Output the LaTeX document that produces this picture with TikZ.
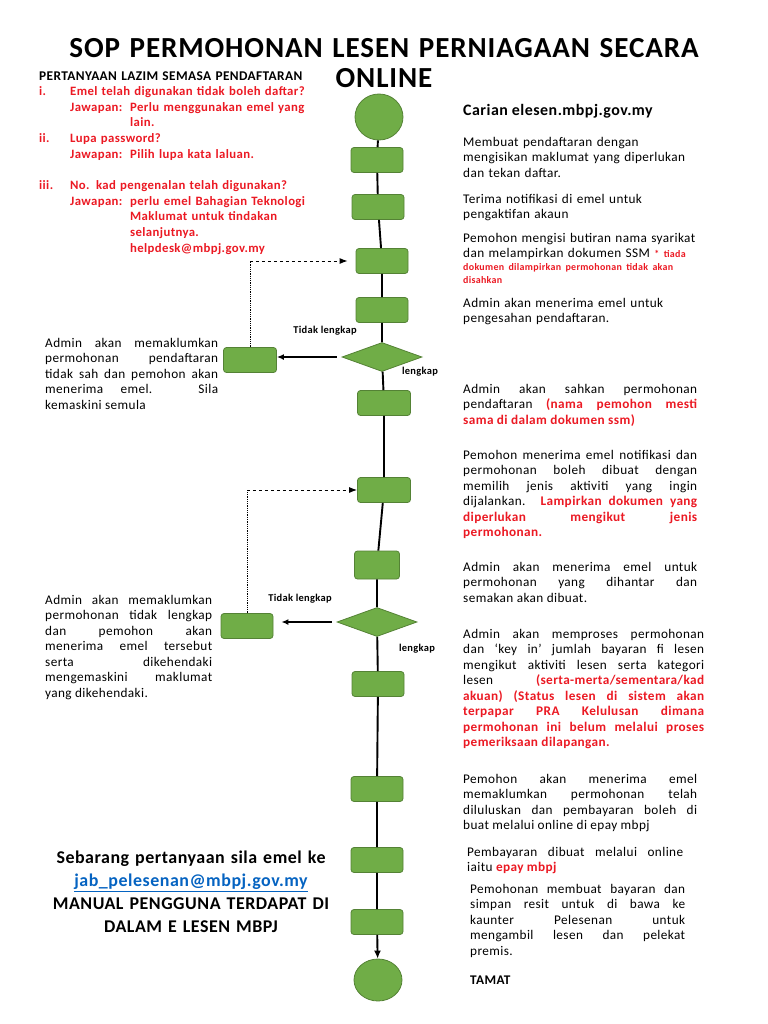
\documentclass[tikz,border=0pt]{standalone}
\usepackage{fontspec}
\setmainfont{Carlito}[LetterSpace=3]
\usepackage{tikz}
\usetikzlibrary{positioning,calc,shapes.geometric,arrows.meta}
\definecolor{SopGreen}{RGB}{112,173,71}
\definecolor{SopEdge}{RGB}{84,130,53}
\definecolor{SopRed}{RGB}{235,25,35}
\definecolor{LinkBlue}{RGB}{5,99,193}
\hyphenpenalty=10000
\exhyphenpenalty=10000
\newcommand{\redtext}[1]{{\color{SopRed}\bfseries #1}}
\newcommand{\smallred}[1]{{\color{SopRed}\bfseries\fontsize{10}{12}\selectfont #1}}
\tikzset{
	stepbox/.style={rectangle,rounded corners=3bp,draw=SopEdge,fill=SopGreen,line width=0.8bp,
		minimum width=52bp,minimum height=25bp,inner sep=0pt},
	decide/.style={diamond,draw=SopEdge,fill=SopGreen,line width=0.8bp,
		minimum width=80bp,minimum height=29bp,inner sep=0pt},
	terminal/.style={ellipse,draw=SopEdge,fill=SopGreen,line width=0.8bp,
		minimum width=48bp,minimum height=46bp,inner sep=0pt},
	flow/.style={draw=black,line width=1.9bp},
	side/.style={draw=black,line width=1.5bp,-{Latex[length=7bp,width=6bp]}},
	back/.style={draw=black,line width=1bp,dashed,-{Latex[length=8bp,width=6bp]}},
	note/.style={anchor=base west,inner sep=0pt,align=justify,font=\fontsize{13.3}{15.6}\selectfont},
	plain/.style={anchor=base west,inner sep=0pt,align=left,font=\fontsize{13.3}{15.6}\selectfont},
	tag/.style={inner sep=0pt,font=\fontsize{10.5}{11}\selectfont\bfseries},
}

\begin{document}
\begin{tikzpicture}[x=1bp,y=-1bp]
	\useasboundingbox (0,0) rectangle (768,1024);
	\node[anchor=base,inner sep=0pt,text width=740bp,align=center,
		font=\fontsize{29.2}{31}\selectfont\bfseries] (title) at (384,57)
		{SOP PERMOHONAN LESEN PERNIAGAAN SECARA\\ONLINE};

	% soalan lazim
	\node[plain,text width=320bp,font=\fontsize{12.8}{15.7}\selectfont\bfseries] (faq) at (39,80)
		{{\fontsize{13.4}{15.7}\selectfont PERTANYAAN LAZIM SEMASA PENDAFTARAN}\\
		\color{SopRed}\makebox[31bp][l]{i.}Emel telah digunakan tidak boleh daftar?\\
		\hspace*{31bp}\makebox[60bp][l]{Jawapan:}Perlu menggunakan emel yang\\
		\hspace*{91bp}lain.\\
		\makebox[31bp][l]{ii.}Lupa password?\\
		\hspace*{31bp}\makebox[60bp][l]{Jawapan:}Pilih lupa kata laluan.\\[15.7bp]
		\makebox[31bp][l]{iii.}No. kad pengenalan telah digunakan?\\
		\hspace*{31bp}\makebox[60bp][l]{Jawapan:}perlu emel Bahagian Teknologi\\
		\hspace*{91bp}Maklumat untuk tindakan\\
		\hspace*{91bp}selanjutnya.\\
		\hspace*{91bp}helpdesk@mbpj.gov.my};

	% carta alir
	\node[terminal] (start) at (379,117) {};
	\node[stepbox] (b1) at (377,160) {};
	\node[stepbox] (b2) at (378,207) {};
	\node[stepbox] (b3) at (382,261) {};
	\node[stepbox] (b4) at (382,310) {};
	\node[decide] (d1) at (382,357) {};
	\node[stepbox,minimum width=53bp] (b5) at (384,403) {};
	\node[stepbox,minimum width=53bp] (b6) at (384,490) {};
	\node[stepbox,minimum width=45bp,minimum height=28bp] (b7) at (377,565) {};
	\node[decide] (d2) at (377,622) {};
	\node[stepbox] (b8) at (378,684) {};
	\node[stepbox] (b9) at (377,789) {};
	\node[stepbox] (b10) at (377,860) {};
	\node[stepbox] (b11) at (377,922) {};
	\node[terminal,minimum height=42bp] (finish) at (378,980) {};
	\node[stepbox,minimum width=53bp] (admin1) at (250,360) {};
	\node[stepbox] (admin2) at (247,626) {};

	\draw[flow] (start) -- (b1) -- (b2) -- (b3) -- (b4) -- (d1) -- (b5) -- (b6)
		-- (b7) -- (d2) -- (b8) -- (b9) -- (b10) -- (b11);
	\draw[flow,-{Latex[length=8bp,width=7bp]}] (b11) -- (finish);

	\draw[side,shorten <=5bp] (d1.west) -- (d1.west -| admin1.east);
	\draw[side,shorten <=5bp,shorten >=8bp] (d2.west) -- (d2.west -| admin2.east);
	\coordinate (c1) at (admin1.north |- b3.west);
	\coordinate (c2) at (admin2.north |- b6.west);
	\draw[densely dotted,line width=0.8bp] (admin1.north) -- (c1);
	\draw[back,shorten >=8bp] (c1) -- (b3.west);
	\draw[densely dotted,line width=0.8bp] (admin2.north) -- (c2);
	\draw[back] (c2) -- (b6.west);

	\node[tag] (no1) at (325,331) {Tidak lengkap};
	\node[tag] (yes1) at (420,372) {lengkap};
	\node[tag] (no2) at (300,599) {Tidak lengkap};
	\node[tag] (yes2) at (417,649) {lengkap};

	% keterangan kiri
	\node[note,text width=173bp] (left1) at (45,347)
		{Admin akan memaklumkan\linebreak permohonan pendaftaran\linebreak tidak sah dan pemohon akan\linebreak
		menerima emel. Sila\linebreak kemaskini semula};
	\node[note,text width=167bp] (left2) at (45,604)
		{Admin akan memaklumkan\linebreak permohonan tidak lengkap\linebreak dan pemohon akan\linebreak
		menerima emel tersebut\linebreak serta dikehendaki\linebreak mengemaskini maklumat\linebreak yang dikehendaki.};

	% keterangan kanan
	\node[plain,font=\fontsize{16}{18}\selectfont\bfseries] (carian) at (463,115) {Carian elesen.mbpj.gov.my};
	\node[plain,text width=240bp] (daftar) at (463,146)
		{Membuat pendaftaran dengan\\mengisikan maklumat yang diperlukan\\dan tekan daftar.};
	\node[plain,text width=240bp] (notif) at (463,203)
		{Terima notifikasi di emel untuk\\pengaktifan akaun};
	\node[plain,text width=250bp] (ssm) at (463,242)
		{Pemohon mengisi butiran nama syarikat\\
		dan melampirkan dokumen SSM \smallred{* tiada}\\[-2.5bp]
		\smallred{dokumen dilampirkan permohonan tidak akan}\\[-3bp]
		\smallred{disahkan}};
	\node[plain,text width=240bp] (sahkan) at (463,307)
		{Admin akan menerima emel untuk\\pengesahan pendaftaran.};
	\node[note,text width=234bp] (semak) at (463,393)
		{Admin akan sahkan permohonan\linebreak pendaftaran \redtext{(nama pemohon mesti\linebreak sama di dalam dokumen ssm)}};
	\node[note,text width=234bp] (aktiviti) at (463,459)
		{Pemohon menerima emel notifikasi dan\linebreak permohonan boleh dibuat dengan\linebreak
		memilih jenis aktiviti yang ingin\linebreak dijalankan. \redtext{Lampirkan dokumen yang\linebreak
		diperlukan mengikut jenis\linebreak permohonan.}};
	\node[note,text width=234bp] (hantar) at (463,571)
		{Admin akan menerima emel untuk\linebreak permohonan yang dihantar dan\linebreak semakan akan dibuat.};
	\node[note,text width=241bp] (proses) at (463,638)
		{Admin akan memproses permohonan\linebreak dan ‘key in’ jumlah bayaran fi lesen\linebreak
		mengikut aktiviti lesen serta kategori\linebreak lesen \redtext{(serta-merta/sementara/kad\linebreak
		akuan) (Status lesen di sistem akan\linebreak terpapar PRA Kelulusan dimana\linebreak
		permohonan ini belum melalui proses\linebreak pemeriksaan dilapangan.}};
	\node[note,text width=234bp] (lulus) at (463,783)
		{Pemohon akan menerima emel\linebreak memaklumkan permohonan telah\linebreak
		diluluskan dan pembayaran boleh di\linebreak buat melalui online di epay mbpj};
	\node[note,text width=216bp] (bayar) at (467,856)
		{Pembayaran dibuat melalui online\linebreak iaitu \redtext{epay mbpj}};
	\node[note,text width=215bp] (resit) at (470,893)
		{Pemohonan membuat bayaran dan\linebreak simpan resit untuk di bawa ke\linebreak kaunter Pelesenan untuk\linebreak
		mengambil lesen dan pelekat\linebreak premis.};
	\node[plain,font=\fontsize{13.3}{15.6}\selectfont\bfseries] (tamat) at (470,984) {TAMAT};

	% hubungi
	\node[anchor=base,inner sep=0pt,text width=340bp,align=center,
		font=\fontsize{18}{23.4}\selectfont\bfseries] (hubungi) at (191,863)
		{Sebarang pertanyaan sila emel ke\\
		{\color{LinkBlue}\underline{jab\_pelesenan@mbpj.gov.my}}\\
		MANUAL PENGGUNA TERDAPAT DI\\DALAM E LESEN MBPJ};
\end{tikzpicture}
\end{document}
